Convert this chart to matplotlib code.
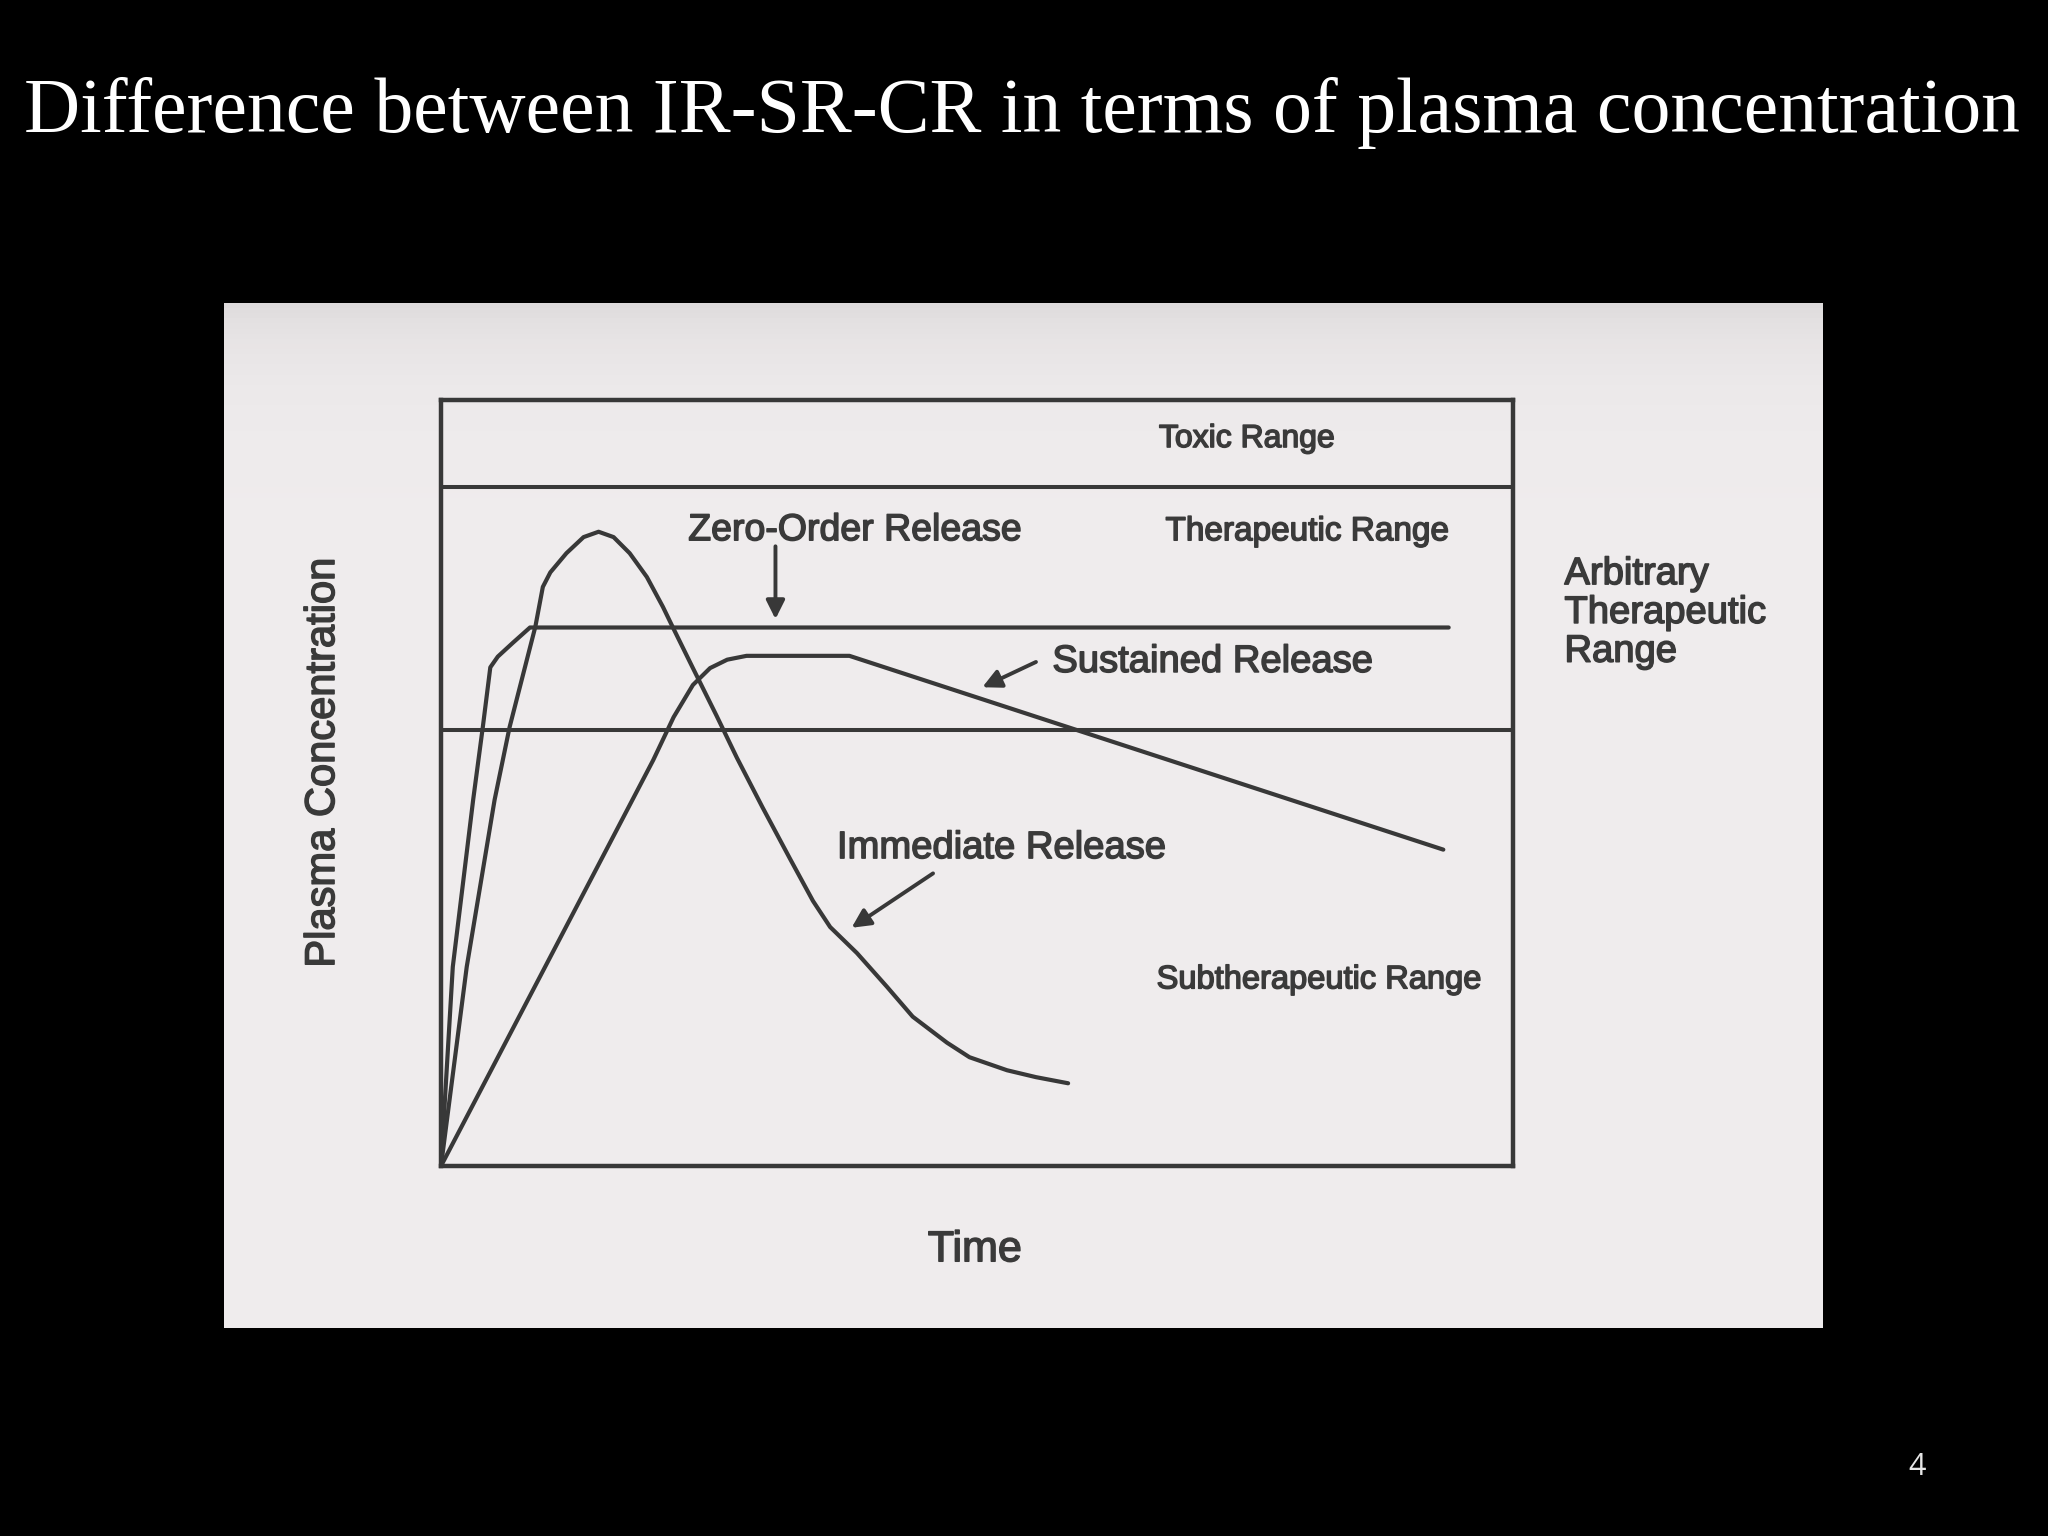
import matplotlib
matplotlib.use("Agg")
import matplotlib.pyplot as plt
import matplotlib.patheffects as pe
import numpy as np

# curves (time 0-10, concentration 0-10, arbitrary units)
ir_time = [0, 0.24, 0.50, 0.64, 0.77, 0.88, 0.95, 1.02, 1.17, 1.33, 1.47, 1.61,
           1.76, 1.92, 2.07, 2.16, 2.35, 2.57, 2.76, 3.00, 3.26, 3.47, 3.63,
           3.88, 4.16, 4.40, 4.72, 4.93, 5.28, 5.55, 5.85]
ir_conc = [0, 2.60, 4.78, 5.73, 6.44, 7.04, 7.56, 7.75, 8.00, 8.21, 8.28, 8.21,
           8.00, 7.69, 7.30, 7.04, 6.50, 5.88, 5.33, 4.68, 4.00, 3.46, 3.12,
           2.78, 2.34, 1.95, 1.61, 1.42, 1.25, 1.16, 1.08]

sr_time = [0, 1.98, 2.17, 2.35, 2.51, 2.67, 2.85, 3.81, 9.35]
sr_conc = [0, 5.30, 5.86, 6.28, 6.50, 6.61, 6.66, 6.66, 4.13]

zo_time = [0, 0.11, 0.30, 0.39, 0.46, 0.53, 0.67, 0.83, 9.40]
zo_conc = [0, 2.60, 4.78, 5.73, 6.51, 6.65, 6.83, 7.03, 7.03]

toxic_level = 8.86
sub_level = 5.69

title = "Difference between IR-SR-CR in terms of plasma concentration"
page_no = "4"

W, H = 2048, 1536
line_col = "#383838"
text_col = "#3a3a3a"

fig = plt.figure(figsize=(W / 100, H / 100), dpi=100, facecolor="black")

# scanned page behind the chart
bg = fig.add_axes([224 / W, 1 - 1328 / H, (1823 - 224) / W, (1328 - 303) / H])
rows = np.linspace(0, 1, 200)
shade = 0.935 - 0.065 * np.exp(-rows / 0.05)
img = np.stack([shade + 0.004, shade - 0.008, shade - 0.004], axis=-1)
img = np.clip(img, 0, 1)
bg.imshow(img[:, None, :].repeat(4, axis=1), aspect="auto", extent=[0, 1, 0, 1])
bg.axis("off")

ax = fig.add_axes([441 / W, 1 - 1166 / H, 1072 / W, 766 / H])
ax.set_facecolor("none")
ax.set_xlim(0, 10)
ax.set_ylim(0, 10)
ax.set_xticks([])
ax.set_yticks([])
for s in ax.spines.values():
    s.set_linewidth(3.2)
    s.set_color(line_col)

ax.axhline(toxic_level, color=line_col, lw=2.9)
ax.axhline(sub_level, color=line_col, lw=2.9)

for t, c in [(ir_time, ir_conc), (sr_time, sr_conc), (zo_time, zo_conc)]:
    ax.plot(t, c, color=line_col, lw=3.0, solid_joinstyle="round",
            solid_capstyle="round")

thick = [pe.withStroke(linewidth=1.1, foreground=text_col)]
font = dict(family="Liberation Sans", color=text_col, path_effects=thick)
arrow = dict(arrowstyle="-|>", color=line_col, lw=2.8, mutation_scale=28,
             shrinkA=0, shrinkB=0)

ax.text(7.52, 9.49, "Toxic Range", ha="center", va="center", fontsize=23, **font)
ax.text(8.08, 8.28, "Therapeutic Range", ha="center", va="center", fontsize=24, **font)
ax.text(8.19, 2.43, "Subtherapeutic Range", ha="center", va="center", fontsize=23.5, **font)

ax.text(3.86, 8.30, "Zero-Order Release", ha="center", va="center", fontsize=27, **font)
ax.annotate("", xy=(3.12, 7.14), xytext=(3.12, 8.09), arrowprops=arrow)

ax.text(7.20, 6.58, "Sustained Release", ha="center", va="center", fontsize=27.5, **font)
ax.annotate("", xy=(5.05, 6.25), xytext=(5.55, 6.58), arrowprops=arrow)

ax.text(5.23, 4.15, "Immediate Release", ha="center", va="center", fontsize=27.5, **font)
ax.annotate("", xy=(3.83, 3.11), xytext=(4.59, 3.82), arrowprops=arrow)

ax.text(10.48, 7.22, "Arbitrary\nTherapeutic\nRange", ha="left", va="center",
        fontsize=27.5, linespacing=1.1, clip_on=False, **font)
ax.text(4.98, -1.10, "Time", ha="center", va="center", fontsize=31, clip_on=False, **font)
ax.text(-1.10, 5.26, "Plasma Concentration", ha="center", va="center", rotation=90,
        fontsize=30, clip_on=False, **font)

fig.text(1022 / W, 1 - 132 / H, title, ha="center", va="baseline", color="white",
         fontsize=56, family="Liberation Serif")
fig.text(1917 / W, 1 - 1467 / H, page_no, ha="center", va="center", color="#e6e6e6",
         fontsize=22, family="Open Sans")

fig.savefig("out.png", dpi=100, facecolor="black")
